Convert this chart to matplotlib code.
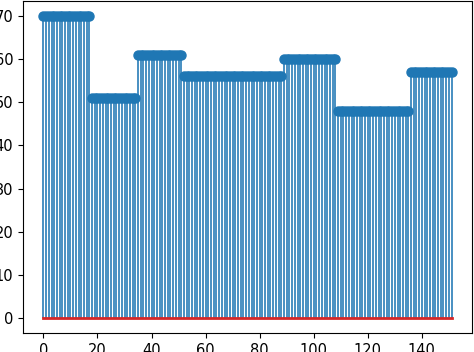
import numpy as np
import matplotlib
matplotlib.use("Agg")
import matplotlib.pyplot as plt

segment_values = [70, 51, 61, 56, 60, 48, 57]
segment_lengths = [18, 17, 17, 37, 20, 27, 16]

values = np.repeat(segment_values, segment_lengths)
x = np.arange(len(values))

fig = plt.figure(figsize=(4.74, 3.52), dpi=100)
ax = fig.add_axes([23/474, 19/352, 449/474, 332/352])
markerline, stemlines, baseline = ax.stem(x, values)
plt.setp(stemlines, linewidth=1.15)
plt.setp(markerline, markersize=6.5)
plt.setp(baseline, linewidth=2)
ax.set_yticks([0, 10, 20, 30, 40, 50, 60, 70])
ax.set_xticks([0, 20, 40, 60, 80, 100, 120, 140])
ax.tick_params(labelsize=10.5)
fig.savefig("out.png", dpi=100)
